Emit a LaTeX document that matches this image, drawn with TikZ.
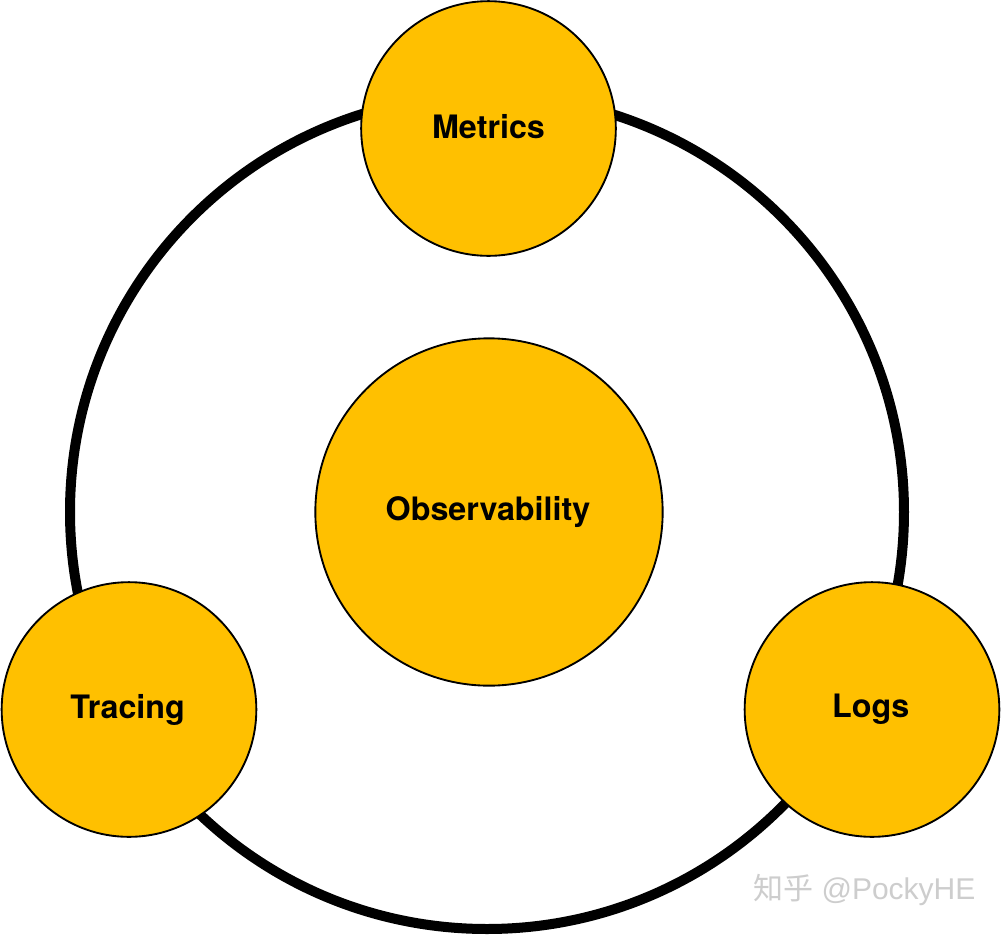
\documentclass[tikz,border=0pt]{standalone}
\usepackage{fontspec}
\setmainfont{TeX Gyre Heros}
\newfontfamily\cjk{Noto Sans CJK SC}
\newfontfamily\wmfont{Liberation Sans}
\definecolor{amber}{RGB}{255,192,0}
\definecolor{wm}{RGB}{205,205,205}
\tikzset{
  x=0.75pt,y=-0.75pt,
  ball/.style={circle,draw=black,line width=1.4pt,fill=amber,inner sep=0pt,font=\bfseries\fontsize{24.2pt}{28pt}\selectfont},
  ring/.style={draw=black,line width=7.5pt},
  mark text/.style={font=\wmfont\fontsize{22.5pt}{26pt}\selectfont,text=wm,inner sep=0pt,anchor=west}
}
\begin{document}
\begin{tikzpicture}
\useasboundingbox (0,0) rectangle (1001,936);
\fill[white] (0,0) rectangle (1001,936);
\coordinate (c) at (487,512);
\draw[ring] (c) circle[radius=417*0.75pt];
\node[ball,minimum size=191pt] (metrics) at (488.5,128.5) {\raisebox{3.5pt}{Metrics}};
\node[ball,minimum size=260.5pt] (obs) at (489,512) {\hspace*{-1.5pt}Observability};
\node[ball,minimum size=191pt] (tracing) at (129,709.5) {\hspace*{-2pt}Tracing};
\node[ball,minimum size=191pt] (logs) at (872,709.5) {\hspace*{-2pt}Logs};
\node[mark text] (wmark) at (753,890) {{\cjk 知乎} @PockyHE};
\end{tikzpicture}
\end{document}
